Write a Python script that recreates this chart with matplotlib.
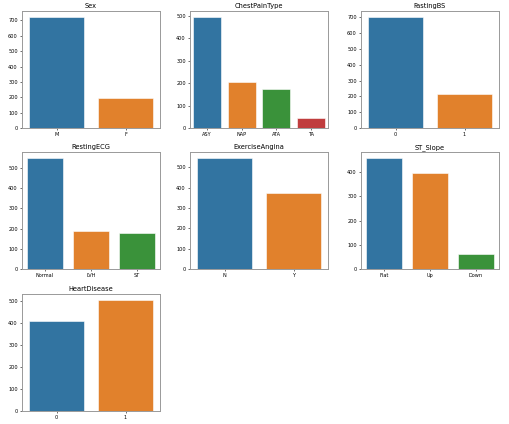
import matplotlib
matplotlib.use("Agg")
import matplotlib.pyplot as plt

sex_cats = ["M", "F"]
sex_vals = [725, 193]
cp_cats = ["ASY", "NAP", "ATA", "TA"]
cp_vals = [496, 203, 173, 46]
fbs_cats = ["0", "1"]
fbs_vals = [704, 214]
ecg_cats = ["Normal", "LVH", "ST"]
ecg_vals = [552, 188, 178]
ea_cats = ["N", "Y"]
ea_vals = [547, 371]
slope_cats = ["Flat", "Up", "Down"]
slope_vals = [460, 395, 63]
hd_cats = ["0", "1"]
hd_vals = [410, 508]

panels = [
    ("Sex", sex_cats, sex_vals),
    ("ChestPainType", cp_cats, cp_vals),
    ("FastingBS", fbs_cats, fbs_vals),
    ("RestingECG", ecg_cats, ecg_vals),
    ("ExerciseAngina", ea_cats, ea_vals),
    ("ST_Slope", slope_cats, slope_vals),
    ("HeartDisease", hd_cats, hd_vals),
]

colors = ["#3274a1", "#e1812c", "#3a923a", "#c03d3e"]

W, H = 509, 424
fig = plt.figure(figsize=(W / 100, H / 100), dpi=100)
lefts = [22, 190, 361]
tops = [11, 152, 294]
aw, ah = 138, 117

for i, (title, cats, vals) in enumerate(panels):
    r, c = divmod(i, 3)
    ax = fig.add_axes([lefts[c] / W, 1 - (tops[r] + ah) / H, aw / W, ah / H])
    x = list(range(len(cats)))
    ax.bar(x, vals, width=0.8, color=colors[:len(cats)], edgecolor="white", linewidth=0.4)
    ax.set_xticks(x)
    ax.set_xticklabels(cats)
    ax.set_xlim(-0.5, len(cats) - 0.5)
    ax.set_title(title, fontsize=4.8, pad=2)
    ax.tick_params(labelsize=3.6, length=1.5, width=0.4, pad=1.5)
    for s in ax.spines.values():
        s.set_color("#999999")
        s.set_linewidth(0.7)

fig.savefig("out.png", dpi=100)
